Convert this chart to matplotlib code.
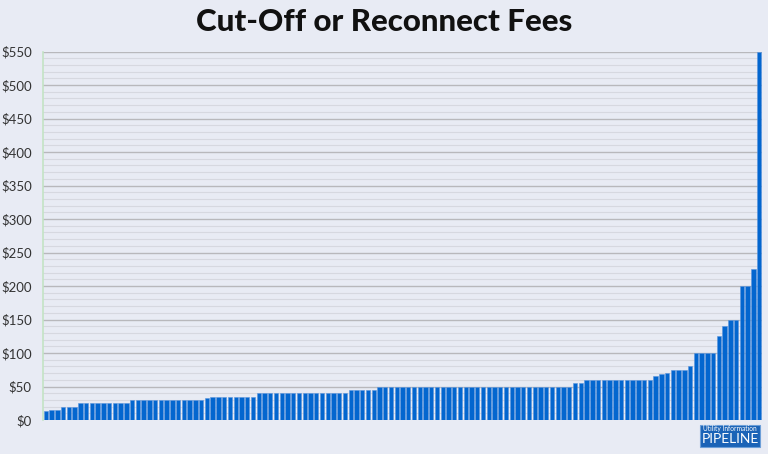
import numpy as np
import matplotlib
matplotlib.use("Agg")
import matplotlib.pyplot as plt
from matplotlib.patches import FancyBboxPatch

# fee values, sorted ascending
fee_levels = [13, 15, 20, 25, 30, 33, 35, 40, 45, 50, 55, 60, 65, 68, 70, 75, 80,
              100, 125, 140, 150, 200, 225, 550]
fee_counts = [1, 2, 3, 9, 13, 1, 8, 16, 5, 34, 2, 12, 1, 1, 1, 3, 1,
              4, 1, 1, 2, 2, 1, 1]
fees = np.repeat(fee_levels, fee_counts)

yticks = list(range(0, 551, 50))
ytick_labels = ["$" + str(v) for v in yticks]

bg = "#e8ebf4"
bar_color = "#0366cf"

fig = plt.figure(figsize=(7.68, 4.54), dpi=100, facecolor=bg)
ax = fig.add_axes([43 / 768, 34 / 454, 719 / 768, 368.5 / 454])
ax.set_facecolor(bg)

x = np.arange(len(fees))
ax.bar(x, fees, width=0.76, color=bar_color, edgecolor="#5b95dd", linewidth=0.4, zorder=3)

ax.set_xlim(-0.5, len(fees) - 0.5)
ax.set_ylim(0, 550)
ax.set_yticks(yticks)
ax.set_yticklabels(ytick_labels, fontsize=9.5, color="#333333", family="Lato")
ax.set_yticks(range(0, 551, 10), minor=True)
ax.tick_params(axis="y", which="both", length=0, pad=8)
ax.set_xticks([])

ax.grid(axis="y", which="major", color="#b8b8bc", linewidth=1.0, zorder=1)
ax.grid(axis="y", which="minor", color="#d6d8e0", linewidth=0.8, zorder=1)

for side in ["top", "right", "bottom"]:
    ax.spines[side].set_visible(False)
ax.spines["left"].set_color("#c3e3c5")
ax.spines["left"].set_linewidth(1.2)

fig.text(0.5, 0.952, "Cut-Off or Reconnect Fees", ha="center", va="center",
         fontsize=22.5, fontweight="black", family="Lato", color="#111111")

# logo box
logo = FancyBboxPatch((700 / 768, 7 / 454), 60 / 768, 22 / 454,
                      boxstyle="square,pad=0", transform=fig.transFigure,
                      facecolor="#1b63b7", edgecolor="#6d9fd8", linewidth=0.8)
fig.patches.append(logo)
fig.text(730 / 768, 25 / 454, "Utility Information", ha="center", va="center",
         fontsize=4.8, color="white", family="Lato")
fig.text(730 / 768, 15 / 454, "PIPELINE", ha="center", va="center",
         fontsize=10, color="white", family="Lato")

fig.savefig("out.png", dpi=100, facecolor=bg)
